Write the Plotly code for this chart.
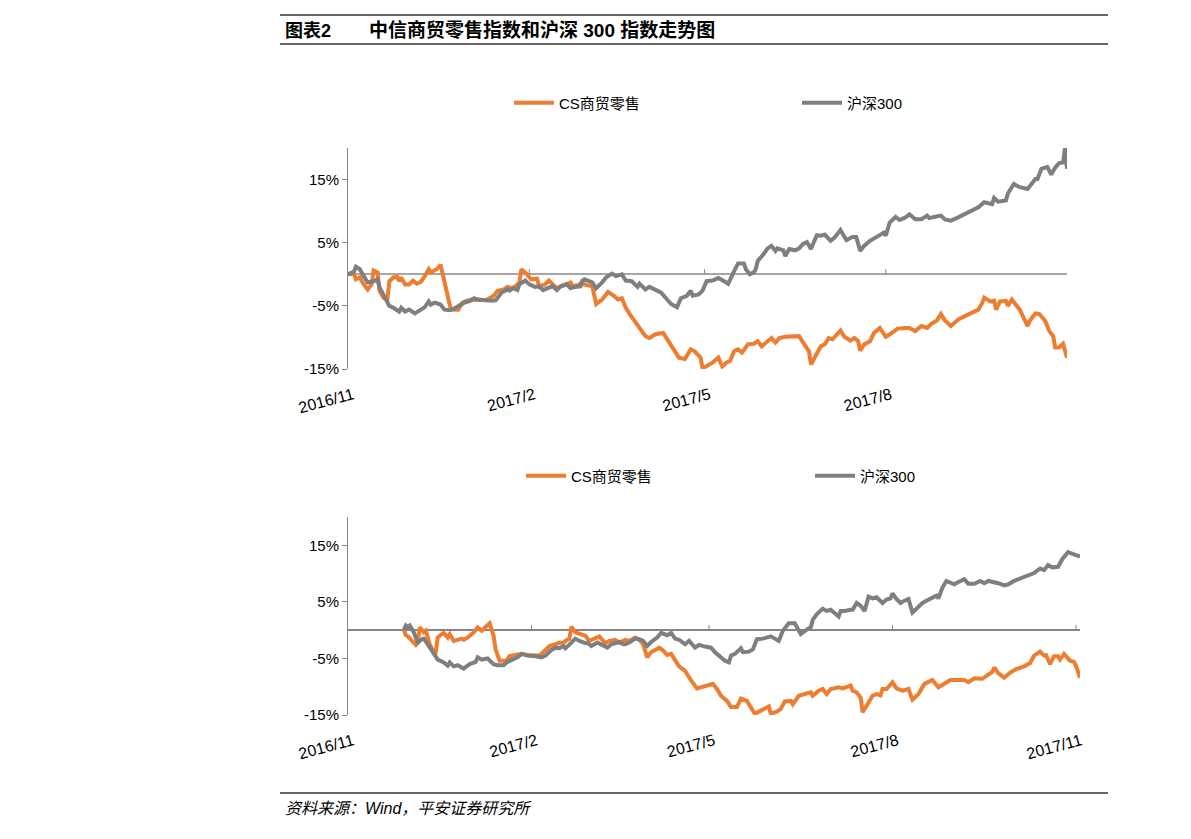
import pandas as pd
import plotly.graph_objects as go

W, H = 1191, 839
BASE = pd.Timestamp("2016-11-01")

# ---------------- data (day offset from 2016-11-01, cumulative return %) ----------------
# Upper chart
top_cs_day = [0, 3, 4, 6, 8, 10, 12, 13, 15, 16, 18, 20, 21, 23, 25, 26, 27, 29, 31, 33,
              35, 37, 39, 41, 42, 45, 47, 48, 50, 52, 54, 56, 58, 60, 63, 66, 70, 74, 76, 79,
              81, 83, 85, 87, 88, 90, 92, 93, 96, 97, 100, 102, 104, 106, 108, 111, 113, 114, 117, 119,
              120, 124, 126, 129, 132, 135, 137, 139, 141, 143, 146, 148, 151, 153, 156, 160, 163, 165, 168, 171,
              174, 176, 179, 180, 183, 185, 188, 190, 192, 194, 196, 198, 200, 203, 206, 208, 210, 213, 215, 217,
              219, 222, 225, 229, 231, 234, 235, 238, 240,
              242, 244, 246, 250, 252, 255, 257, 259, 260, 262, 265, 267, 270, 273, 276, 279, 283, 285, 288, 291,
              294, 296, 299, 301, 303, 306, 310, 313, 317, 320, 322, 323, 326, 328, 329, 331, 334, 335, 337, 339,
              341, 343, 345, 346, 349, 351, 354, 356, 358, 359, 361, 363, 364, 365]
top_cs_val = [0.0, 0.1, -0.8, -0.5, -1.6, -2.4, -1.6, 0.6, 0.3, -2.6, -3.7, -4.0, -1.1, -0.5, -0.4, -1.1, -0.5, -1.6, -1.6, -1.0,
              -1.5, -1.2, -0.3, 0.8, 0.3, 0.8, 1.5, 0.0, -2.6, -5.3, -5.6, -5.6, -4.5, -4.2, -4.0, -4.0, -4.1, -3.4, -2.6, -2.4,
              -2.0, -2.2, -1.9, -1.3, 0.8, 0.3, -0.5, -0.8, -0.7, -1.9, -1.6, -1.0, -1.6, -2.2, -1.9, -1.6, -1.3, -1.9, -1.7, -1.2,
              -1.6, -1.9, -4.7, -4.0, -2.8, -3.4, -4.0, -3.8, -5.3, -6.3, -7.7, -8.5, -9.8, -10.1, -9.5, -9.3, -10.8, -11.6, -13.2, -13.4,
              -11.9, -12.2, -13.2, -14.9, -14.3, -14.0, -13.2, -14.6, -14.0, -13.7, -12.2, -11.9, -12.4, -11.1, -11.0, -10.6, -11.4, -10.6, -10.1, -10.8,
              -10.1, -9.9, -9.8, -9.8, -10.8, -12.2, -14.3, -12.4, -11.4,
              -11.1, -10.1, -10.3, -8.9, -9.9, -10.5, -10.1, -10.6, -12.1, -11.1, -10.6, -9.3, -8.5, -9.9, -9.3, -8.6, -8.5, -8.5, -9.0, -8.2,
              -8.5, -7.9, -7.3, -6.3, -7.3, -8.2, -7.1, -6.6, -6.1, -5.6, -4.5, -3.7, -4.3, -4.2, -5.6, -4.3, -4.2, -5.0, -4.0, -4.8,
              -5.6, -6.9, -8.2, -7.4, -6.2, -6.3, -7.4, -9.0, -9.8, -11.6, -11.6, -11.0, -11.9, -13.2]

top_hs_day = [0, 3, 4, 6, 8, 10, 13, 15, 16, 18, 21, 23, 26, 27, 29, 31, 34, 37, 39, 41,
              42, 44, 47, 49, 52, 54, 57, 59, 62, 64, 66, 70, 73, 75, 78, 81, 82, 84, 86, 87,
              90, 92, 95, 97, 99, 102, 104, 106, 108, 111, 113, 115, 118, 119,
              120, 124, 126, 129, 131, 134, 136, 139, 141, 144, 147, 148, 151, 153, 156, 159, 162, 164, 167, 169,
              172, 174, 175, 178, 180, 182, 185, 188, 191, 193, 196, 198, 201, 202, 204, 206, 207, 208, 211, 213,
              215, 217, 218, 221, 222, 224, 227, 229, 231, 233, 235, 238, 240,
              242, 245, 247, 250, 253, 256, 258, 260, 262, 265, 268, 270, 272, 273, 275, 278, 280, 283, 285, 288,
              291, 294, 295, 298, 301, 303, 306, 309, 313, 317, 320, 323, 327, 328, 330, 334, 335, 338, 341, 345,
              347, 349, 350, 352, 355, 357, 359, 361, 363, 364, 365]
top_hs_val = [0.0, 0.4, 1.2, 0.8, -0.3, -1.3, -1.1, -0.8, -2.1, -3.4, -5.0, -5.3, -5.9, -5.3, -5.9, -5.6, -6.2, -5.6, -5.2, -4.3,
              -4.8, -4.5, -4.8, -5.6, -5.7, -5.4, -4.8, -4.5, -4.2, -3.8, -4.0, -4.2, -4.2, -4.1, -2.9, -2.4, -2.6, -2.2, -2.5, -1.6,
              -1.0, -1.6, -2.0, -1.9, -2.5, -2.1, -1.9, -2.5, -1.9, -1.6, -2.2, -2.0, -1.9, -1.0,
              -0.8, -1.3, -2.2, -1.3, -0.5, 0.1, -0.3, 0.0, -1.0, -1.1, -2.0, -1.5, -2.4, -2.0, -2.4, -2.9, -4.0, -4.7, -5.2, -3.8,
              -3.4, -2.6, -3.4, -3.2, -2.6, -1.1, -1.0, -0.6, -1.1, -1.5, 0.5, 1.7, 1.7, 0.8, 0.0, 0.3, 0.8, 2.1, 3.2, 4.1,
              4.5, 3.7, 4.1, 3.8, 2.9, 4.0, 3.8, 4.1, 4.8, 5.1, 4.0, 6.2, 6.1,
              6.3, 5.3, 5.8, 7.0, 5.4, 5.9, 5.9, 3.7, 4.5, 5.3, 5.8, 6.2, 6.6, 6.1, 8.2, 9.1, 8.6, 9.0, 9.5, 8.7,
              8.7, 9.3, 8.9, 9.1, 9.3, 8.7, 8.5, 8.9, 9.5, 10.1, 10.6, 11.4, 11.1, 12.1, 11.5, 11.7, 12.8, 14.3, 13.8, 13.5,
              14.3, 15.1, 15.1, 16.7, 17.0, 15.8, 16.9, 17.6, 17.7, 20.0, 16.7]

# Lower chart
bot_cs_day = [28, 29, 30, 32, 34, 35, 36, 38, 39, 41, 43, 44, 45, 47, 48, 50, 51, 53, 55, 57,
              58, 60, 63, 65, 67, 69, 71, 73, 74, 76, 78, 79, 81, 84, 87, 90, 94, 96, 99, 101,
              104, 106, 108, 109, 111, 112, 114, 117, 119, 121, 124, 126, 129, 131, 134, 136,
              139, 141, 144, 146, 148, 150, 152, 156, 158, 160, 162, 164, 166, 169, 171, 172, 175, 178, 183, 185,
              187, 190, 192, 195, 197, 200, 202, 204, 206, 208, 211, 212, 215, 217, 219, 222, 223, 226, 229, 232,
              233, 236, 238, 240, 242, 246, 248,
              252, 253, 255, 257, 258, 261, 263, 265, 267, 268, 270, 273, 275, 278, 281, 283, 286, 289, 293, 296,
              299, 302, 305, 309, 311, 314, 318, 320, 323, 324, 326, 329, 332, 335, 339, 342, 344, 347, 349, 350,
              352, 354, 356, 357, 359, 362, 364, 365, 367]
bot_cs_val = [0.0, -0.9, -1.1, -1.9, -2.6, -2.1, 0.5, -0.4, -0.1, -2.5, -3.9, -3.9, -1.3, -0.7, -0.5, -1.3, -0.7, -1.9, -1.7, -1.5,
              -1.7, -1.3, -0.4, 0.5, -0.1, 0.6, 1.2, -1.0, -3.4, -5.4, -5.4, -5.6, -4.6, -4.4, -4.2, -4.4, -4.4, -4.5, -3.5, -2.8,
              -2.5, -2.2, -2.3, -1.9, -1.5, 0.6, -0.4, -0.7, -1.0, -1.9, -1.5, -1.1, -2.3, -1.9, -1.7, -2.2,
              -1.7, -1.9, -1.3, -1.7, -2.5, -4.8, -3.9, -3.1, -3.6, -4.4, -4.2, -5.4, -6.4, -7.2, -8.4, -8.9, -10.3, -10.0, -9.5, -10.4,
              -11.6, -12.5, -13.6, -13.6, -12.1, -12.5, -13.6, -14.8, -14.4, -14.1, -13.5, -14.8, -14.4, -13.9, -12.6, -12.5, -13.1, -11.6, -11.3, -11.0,
              -11.6, -10.7, -10.4, -11.3, -10.4, -10.1, -10.3,
              -9.8, -10.7, -11.0, -11.9, -14.5, -12.8, -11.6, -11.3, -11.5, -10.4, -10.4, -9.2, -10.3, -10.7, -10.4, -12.3, -11.3, -9.5, -8.8, -10.1,
              -9.4, -8.8, -8.8, -8.8, -9.2, -8.5, -8.6, -8.1, -7.4, -6.6, -7.6, -8.4, -7.5, -6.9, -6.4, -5.8, -4.5, -3.8, -4.5, -4.4,
              -6.0, -4.6, -4.6, -5.2, -4.2, -5.4, -5.6, -6.3, -8.4]

bot_hs_day = [28, 29, 30, 31, 33, 35, 37, 38, 40, 42, 43, 45, 48, 50, 51, 53, 55, 58, 61, 64,
              65, 67, 70, 73, 75, 78, 80, 83, 85, 87, 90, 94, 97, 99, 102, 104, 106, 108, 109, 112,
              114, 116, 119, 120, 122, 125, 127, 130, 132, 135, 136, 138,
              139, 141, 144, 146, 148, 150, 152, 155, 157, 160, 162, 164, 166, 169, 171, 174, 176, 179, 182, 184,
              187, 189, 191, 192, 194, 197, 198, 201, 203, 205, 208, 212, 214, 216, 218, 221, 224, 226, 227, 230,
              232, 233, 235, 238, 240, 242, 244, 246, 247, 249,
              252, 253, 255, 257, 259, 261, 263, 265, 268, 270, 272, 273, 275, 277, 279, 281, 283, 286, 288, 290,
              293, 295, 296, 298, 300, 304, 306, 309, 311, 314, 317, 319, 321, 324, 326, 329, 331, 334, 337, 340,
              344, 347, 349, 351, 353, 356, 358, 361, 364, 367]
bot_hs_val = [0.0, 0.8, 0.5, 0.8, -0.4, -2.2, -1.6, -1.5, -2.5, -3.6, -4.2, -5.2, -5.7, -6.3, -5.7, -6.4, -6.2, -6.8, -6.0, -5.6,
              -4.8, -5.2, -5.0, -6.0, -6.2, -6.2, -5.6, -5.1, -4.8, -4.2, -4.5, -4.6, -4.8, -4.5, -3.5, -3.1, -3.2, -2.8, -3.2, -2.2,
              -1.5, -1.9, -2.3, -2.2, -2.8, -2.2, -2.5, -3.1, -2.5, -2.3, -2.1, -2.5,
              -2.5, -2.2, -1.5, -1.6, -1.9, -2.8, -2.1, -1.3, -0.5, -0.9, -0.5, -1.5, -1.7, -2.5, -1.9, -3.1, -2.6, -2.9, -3.1, -3.9,
              -4.8, -5.4, -5.7, -4.5, -4.2, -3.2, -3.9, -3.8, -3.4, -1.6, -1.5, -1.1, -1.5, -1.9, -0.1, 1.2, 1.2, -0.1, -0.7, 0.1,
              0.5, 1.8, 2.8, 3.8, 3.4, 3.6, 3.0, 2.4, 3.4, 3.4,
              3.6, 3.6, 4.8, 4.3, 3.4, 5.9, 5.6, 5.8, 4.8, 5.4, 5.6, 6.5, 5.5, 4.8, 5.2, 5.5, 3.1, 4.2, 4.8, 5.2,
              5.8, 6.1, 5.6, 7.5, 8.7, 8.1, 8.5, 9.0, 8.2, 8.2, 8.7, 8.3, 8.7, 8.5, 8.3, 7.9, 8.1, 8.7, 9.1, 9.6,
              10.1, 10.9, 10.6, 11.5, 11.1, 11.2, 12.5, 13.8, 13.4, 13.0]

series_names = ["CS商贸零售", "沪深300"]
y_tickvals = [-15, -5, 5, 15]
y_ticktext = ["-15%", "-5%", "5%", "15%"]
top_xtick_dates = ["2016-11-01", "2017-02-01", "2017-05-01", "2017-08-01"]
top_xtick_text = ["2016/11", "2017/2", "2017/5", "2017/8"]
bot_xtick_dates = ["2016-11-01", "2017-02-01", "2017-05-01", "2017-08-01", "2017-11-01"]
bot_xtick_text = ["2016/11", "2017/2", "2017/5", "2017/8", "2017/11"]

title_left = "图表2"
title_main = "中信商贸零售指数和沪深 300 指数走势图"
source_text = "资料来源：Wind，平安证券研究所"

# ---------------- styling ----------------
ORANGE = "#ED7D31"
GREY = "#7F7F7F"
FONT = "Liberation Sans, Arial, Noto Sans CJK SC, sans-serif"


def to_dates(days):
    return [BASE + pd.Timedelta(days=d) for d in days]


def px(xp):
    return xp / W


def py(yp):
    return 1 - yp / H


for d, v in [(top_cs_day, top_cs_val), (top_hs_day, top_hs_val),
             (bot_cs_day, bot_cs_val), (bot_hs_day, bot_hs_val)]:
    assert len(d) == len(v), (len(d), len(v))

fig = go.Figure()

LW = 4
fig.add_trace(go.Scatter(x=to_dates(top_cs_day), y=top_cs_val, name=series_names[0], mode="lines",
                         line=dict(color=ORANGE, width=LW), xaxis="x", yaxis="y", legend="legend"))
fig.add_trace(go.Scatter(x=to_dates(top_hs_day), y=top_hs_val, name=series_names[1], mode="lines",
                         line=dict(color=GREY, width=LW), xaxis="x", yaxis="y", legend="legend"))
fig.add_trace(go.Scatter(x=to_dates(bot_cs_day), y=bot_cs_val, name=series_names[0], mode="lines",
                         line=dict(color=ORANGE, width=LW), xaxis="x2", yaxis="y2", legend="legend2"))
fig.add_trace(go.Scatter(x=to_dates(bot_hs_day), y=bot_hs_val, name=series_names[1], mode="lines",
                         line=dict(color=GREY, width=LW), xaxis="x2", yaxis="y2", legend="legend2"))

common_x = dict(showgrid=False, zeroline=False, showline=False, ticks="", tickangle=-15,
                tickfont=dict(family=FONT, size=16, color="#000000"), ticklabelstandoff=13,
                ticklabelshift=5, type="date", automargin=False)
common_y = dict(showgrid=False, range=[-15, 20], tickvals=y_tickvals, ticktext=y_ticktext,
                showline=True, linecolor="#868686", linewidth=1, ticks="outside", ticklen=5,
                tickcolor="#868686", tickfont=dict(family=FONT, size=15, color="#000000"),
                zeroline=True, automargin=False)

top_end = BASE + pd.Timedelta(days=365)
bot_end = BASE + pd.Timedelta(days=367)

fig.update_layout(
    width=W, height=H,
    margin=dict(l=0, r=0, t=0, b=0, autoexpand=False),
    paper_bgcolor="white", plot_bgcolor="white",
    font=dict(family=FONT, color="#000000"),
    xaxis=dict(common_x, domain=[px(348), px(1067)], range=[BASE, top_end], anchor="y",
               tickvals=top_xtick_dates, ticktext=top_xtick_text),
    yaxis=dict(common_y, domain=[py(369), py(148)], anchor="x",
               zerolinecolor="#A6A6A6", zerolinewidth=2),
    xaxis2=dict(common_x, domain=[px(348), px(1080)], range=[BASE, bot_end], anchor="y2",
                tickvals=bot_xtick_dates, ticktext=bot_xtick_text),
    yaxis2=dict(common_y, domain=[py(715), py(517)], anchor="x2",
                zerolinecolor="#868686", zerolinewidth=1.5),
    legend=dict(orientation="h", x=px(509), y=py(103), xanchor="left", yanchor="middle",
                entrywidth=233, entrywidthmode="pixels", itemwidth=40,
                font=dict(family=FONT, size=15),
                bgcolor="rgba(0,0,0,0)", traceorder="normal"),
    legend2=dict(orientation="h", x=px(521), y=py(476), xanchor="left", yanchor="middle",
                 entrywidth=234, entrywidthmode="pixels", itemwidth=40,
                 font=dict(family=FONT, size=15),
                 bgcolor="rgba(0,0,0,0)", traceorder="normal"),
    showlegend=True,
)

shapes = []
# title rules and footer rule
for yy, lw in [(15, 1.5), (44, 1.5), (793, 1.5)]:
    shapes.append(dict(type="line", xref="paper", yref="paper", x0=px(280), x1=px(1108),
                       y0=py(yy), y1=py(yy), line=dict(color="#333333", width=lw)))
# small tick marks on the zero line
for d in top_xtick_dates[1:]:
    shapes.append(dict(type="line", xref="x", yref="y", x0=d, x1=d, y0=0, y1=0.8,
                       line=dict(color="#868686", width=1)))
for d in bot_xtick_dates[1:]:
    shapes.append(dict(type="line", xref="x2", yref="y2", x0=d, x1=d, y0=0, y1=0.9,
                       line=dict(color="#868686", width=1)))
fig.update_layout(shapes=shapes)

fig.add_annotation(x=px(283), y=py(31), xref="paper", yref="paper", xanchor="left", yanchor="middle",
                   text="<b>" + title_left + "</b>", showarrow=False,
                   font=dict(family=FONT, size=18, color="#000000"))
fig.add_annotation(x=px(367), y=py(31), xref="paper", yref="paper", xanchor="left", yanchor="middle",
                   text="<b>" + title_main + "</b>", showarrow=False,
                   font=dict(family=FONT, size=19, color="#000000"))
fig.add_annotation(x=px(283), y=py(808), xref="paper", yref="paper", xanchor="left", yanchor="middle",
                   text="<i>" + source_text + "</i>", showarrow=False,
                   font=dict(family=FONT, size=16, color="#000000"))

fig.write_html("out.html")
